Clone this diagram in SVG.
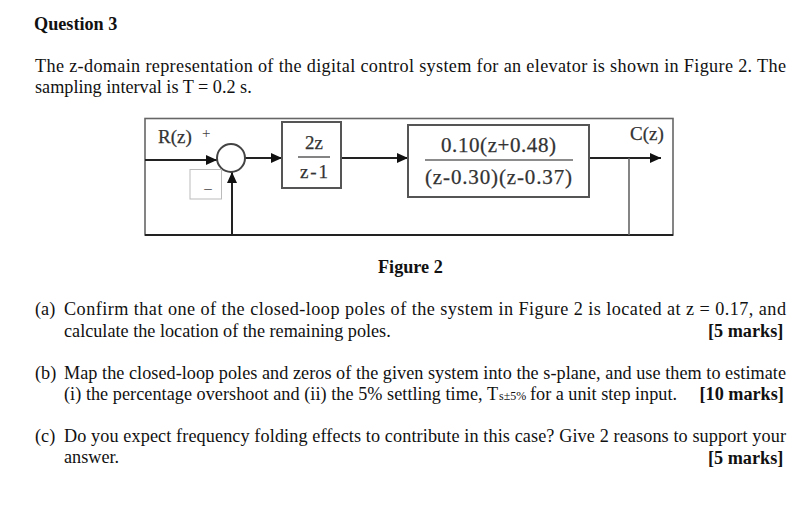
<svg xmlns="http://www.w3.org/2000/svg" width="810" height="517" viewBox="0 0 810 517">
<style>
text{font-family:"Liberation Serif","Times New Roman",serif;fill:#111;font-size:18.2px}
.bold{font-weight:bold}
.d{font-size:19px;fill:#333;stroke:#333;stroke-width:.25}
.f{font-size:21px;fill:#333;stroke:#333;stroke-width:.25}
.m{text-anchor:middle}
.box{fill:#fff;stroke:#555;stroke-width:2}
.ln{fill:none;stroke:#222;stroke-width:2}
.thin{fill:none;stroke:#666;stroke-width:1.6}
</style>
<defs><marker id="a" markerUnits="userSpaceOnUse" markerWidth="12" markerHeight="12" refX="11" refY="5" orient="auto"><path d="M0 0L11 5L0 10Z" fill="#111"/></marker></defs>
<rect width="810" height="517" fill="#fff"/>
<text class="bold" x="34" y="30">Question 3</text>
<text x="35" y="72" textLength="751">The z-domain representation of the digital control system for an elevator is shown in Figure 2. The</text>
<text x="35" y="93">sampling interval is T = 0.2 s.</text>
<g id="connectors">
<rect class="thin" x="145" y="118.5" width="528" height="116.5"/>
<path class="ln" d="M145 160H217" marker-end="url(#a)"/>
<path class="ln" d="M245 158H282" marker-end="url(#a)"/>
<path class="ln" d="M341 158H408" marker-end="url(#a)"/>
<path class="ln" d="M589 158H661" marker-end="url(#a)"/>
<path class="ln" d="M145 235H673"/>
<path class="ln" d="M232 235V172" marker-end="url(#a)"/>
<path class="thin" d="M629 158V235"/>
</g>
<g id="sum"><circle cx="231" cy="158" r="14" fill="#fff" stroke="#444" stroke-width="2"/></g>
<g id="input-label"><text class="d" x="158" y="143">R(z)</text><text x="202" y="138" style="font-size:15px;fill:#444">+</text></g>
<g id="minus"><rect x="190" y="169.500" width="31.500" height="29.500" fill="#fff" stroke="#bbb"/><text class="m" x="208" y="193" style="font-size:15px;fill:#444">–</text></g>
<g id="output-label"><text class="d" x="630" y="140">C(z)</text></g>
<g id="controller"><rect class="box" x="282" y="122" width="59" height="66"/><text class="d m" x="314" y="149">2z</text><path class="thin" d="M298 157H330"/><text class="d m" x="314" y="178" textLength="28">z - 1</text></g>
<g id="plant"><rect class="box" x="408" y="125" width="181" height="72"/><text class="f" x="441" y="152" textLength="115">0.10(z+0.48)</text><path class="thin" d="M425 160H573"/><text class="f" x="425" y="184" textLength="147">(z-0.30)(z-0.37)</text></g>
<text class="bold" x="378" y="273">Figure 2</text>
<text x="35" y="315">(a)</text>
<text x="64" y="315" textLength="722">Confirm that one of the closed-loop poles of the system in Figure 2 is located at z = 0.17, and</text>
<text x="64" y="337">calculate the location of the remaining poles.</text>
<text class="bold" x="708" y="337">[5 marks]</text>
<text x="35" y="379">(b)</text>
<text x="64" y="379" textLength="722">Map the closed-loop poles and zeros of the given system into the s-plane, and use them to estimate</text>
<text x="64" y="400" textLength="434">(i) the percentage overshoot and (ii) the 5% settling time, T</text>
<text x="499" y="400" style="font-size:12px">s±5%</text>
<text x="530" y="400">for a unit step input.</text>
<text class="bold" x="699.500" y="400">[10 marks]</text>
<text x="35" y="442">(c)</text>
<text x="64" y="442" textLength="722">Do you expect frequency folding effects to contribute in this case? Give 2 reasons to support your</text>
<text x="64" y="463">answer.</text>
<text class="bold" x="708" y="463.500">[5 marks]</text>
</svg>
